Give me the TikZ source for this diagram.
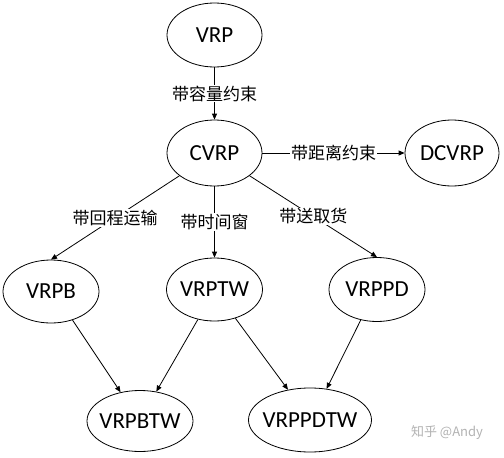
\documentclass[tikz,border=0pt]{standalone}
\usepackage{fontspec}
\setmainfont{Carlito}
\newfontfamily\cjk{Noto Sans CJK SC}
\usetikzlibrary{shapes.geometric,arrows.meta}
\begin{document}
\begin{tikzpicture}[x=1pt,y=-1pt,line join=round,line width=.8pt,>={Triangle[length=6pt,width=5pt]}]
\tikzstyle{st} = [draw,ellipse,inner xsep=-6pt,inner ysep=0pt,font=\fontsize{23}{23}\selectfont]
\tikzstyle{ann} = [fill=white,font=\cjk\fontsize{17}{17}\selectfont,inner sep=1pt]
\useasboundingbox (0,0) rectangle (504,458);
\node[st,minimum width=95pt,minimum height=64pt] (vrp) at (214.5,35) {VRP};
\node[st,minimum width=95pt,minimum height=66pt] (cvrp) at (214.5,153) {CVRP};
\node[st,minimum width=94pt,minimum height=66pt] (dcvrp) at (452,153) {DCVRP};
\node[st,minimum width=96pt,minimum height=63pt] (vrpb) at (51,291.5) {VRPB};
\node[st,minimum width=96pt,minimum height=63pt] (vrptw) at (214.5,289.5) {VRPTW};
\node[st,minimum width=96pt,minimum height=64pt] (vrppd) at (377,289.5) {VRPPD};
\node[st,minimum width=106pt,minimum height=61pt] (vrpbtw) at (140,421) {VRPBTW};
\node[st,minimum width=123pt,minimum height=64pt] (vrppdtw) at (310,420) {VRPPDTW};
\draw[->] (vrp) -- node[ann] {带容量约束} (cvrp);
\draw[->] (cvrp) -- node[ann] {带距离约束} (dcvrp);
\draw[->] (cvrp.-147) -- node[ann] {带回程运输} (vrpb.north);
\draw[->] (cvrp) -- node[ann] {带时间窗} (vrptw);
\draw[->] (cvrp.-33) -- node[ann] {带送取货} (vrppd.north);
\draw[->] (vrpb.-53) -- (vrpbtw.124);
\draw[->] (vrptw.-119) -- (vrpbtw.61);
\draw[->] (vrptw.-54) -- (vrppdtw.126);
\draw[->] (vrppd.-118) -- (vrppdtw.62);
\node[text=black!30,font=\cjk\fontsize{13}{13}\selectfont] (wm) at (447,433) {知乎 @Andy};
\end{tikzpicture}
\end{document}
